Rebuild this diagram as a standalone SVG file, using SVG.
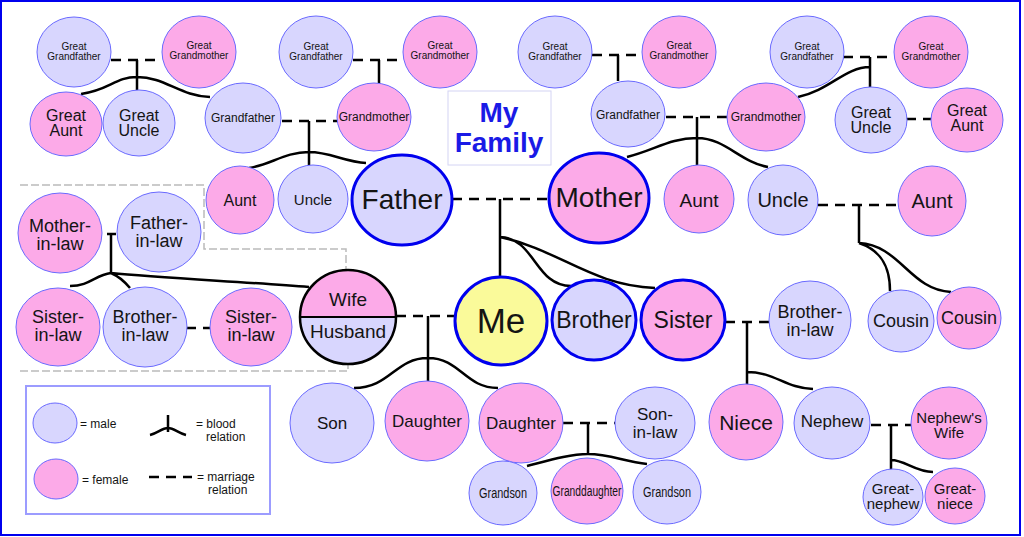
<svg xmlns="http://www.w3.org/2000/svg" width="1024" height="537" viewBox="0 0 1024 537">
<style>
.m{fill:#d8d6fe;stroke:#6a6aff;stroke-width:1}
.f{fill:#fcaae8;stroke:#6a6aff;stroke-width:1}
.k{stroke:#0000ee;stroke-width:3}
.y{fill:#fafa9a}
text{font-family:"Liberation Sans",Arial,Helvetica,sans-serif;fill:#141414;text-anchor:middle}
.l{text-anchor:start}
.blood{fill:none;stroke:#000;stroke-width:2.5}
.marr{fill:none;stroke:#000;stroke-width:2.5;stroke-dasharray:10 7}
.s10{font-size:10px}.s12{font-size:12px}.s15{font-size:15px}.s16{font-size:16px}.s17{font-size:17px}.s18{font-size:18px}.s19{font-size:19px}.s20{font-size:20px}.s21{font-size:21px}.s23{font-size:23px}.s28{font-size:28px}
.cond{font-size:14px}
</style>
<rect x="1" y="1" width="1019" height="534" fill="#fff" stroke="#0000ee" stroke-width="2"/>
<g id="inlaw-frame" fill="none" stroke="#bbb" stroke-width="1.5" stroke-dasharray="8 3">
<path d="M20,185 H204 V249 H346 V271"/>
<path d="M20,371 H348 V364"/>
</g>
<g id="title">
<rect x="448" y="91" width="103" height="74" fill="#fff" stroke="#d4d4f4" stroke-width="1"/>
<text x="499" y="122" style="font-size:28px;font-weight:bold;fill:#1a1ae6">My</text>
<text x="499" y="152" style="font-size:28px;font-weight:bold;fill:#1a1ae6">Family</text>
</g>
<g id="connectors">
<path class="marr" d="M111,60 H162 M353,60 H404 M592,55 H642 M843,57 H894 M282,121 H337 M666,117 H727 M906,119 H931 M452,199 H549 M818,205 H898 M396,316 H455 M186,328 H210 M725,322 H769 M563,423 H615 M871,425 H911"/>
<path class="blood" d="M107,234 H116"/>
<path class="blood" d="M137,60 V90 M81,94 C110,90 115,77 137,77 C165,77 180,96 210,97"/>
<path class="blood" d="M379,60 V83"/>
<path class="blood" d="M618,55 V81"/>
<path class="blood" d="M870,57 V87 M798,97 C830,90 845,67 870,67"/>
<path class="blood" d="M309,121 V165 M249,168 C270,165 285,152 309,152 C330,152 345,162 366,163"/>
<path class="blood" d="M697,117 V165 M627,157 C655,150 670,138 697,138 C725,138 740,162 768,167"/>
<path class="blood" d="M500,199 V277 M500,237 C535,238 535,286 571,286 M500,237 C560,250 590,285 655,288"/>
<path class="blood" d="M428,316 V381 M428,358 C395,358 390,388 354,388 M428,358 C460,358 465,388 498,388"/>
<path class="blood" d="M111,234 V273 M111,273 C95,275 90,286 70,286 M111,273 C118,276 125,282 130,288 M111,273 C160,278 250,282 309,287"/>
<path class="blood" d="M747,322 V385 M747,372 C775,372 785,388 813,389"/>
<path class="blood" d="M859,205 V243 M859,243 C880,250 890,265 890,291 M859,243 C900,245 910,290 951,292"/>
<path class="blood" d="M588,423 V454 M527,466 C550,460 570,454 588,454 C610,454 625,462 647,464"/>
<path class="blood" d="M891,425 V470 M891,460 C905,460 915,472 933,472"/>
</g>
<g id="ggf1"><ellipse class="m" cx="74" cy="52" rx="37" ry="35"/><text class="s10" x="74" y="50">Great</text><text class="s10" x="74" y="60">Grandfather</text></g>
<g id="ggm1"><ellipse class="f" cx="199" cy="52" rx="37" ry="36"/><text class="s10" x="199" y="49">Great</text><text class="s10" x="199" y="59">Grandmother</text></g>
<g id="ggf2"><ellipse class="m" cx="316" cy="52" rx="37" ry="36"/><text class="s10" x="316" y="50">Great</text><text class="s10" x="316" y="60">Grandfather</text></g>
<g id="ggm2"><ellipse class="f" cx="440" cy="52" rx="37" ry="36"/><text class="s10" x="440" y="49">Great</text><text class="s10" x="440" y="59">Grandmother</text></g>
<g id="ggf3"><ellipse class="m" cx="555" cy="52" rx="37" ry="36"/><text class="s10" x="555" y="50">Great</text><text class="s10" x="555" y="60">Grandfather</text></g>
<g id="ggm3"><ellipse class="f" cx="679" cy="52" rx="37" ry="36"/><text class="s10" x="679" y="49">Great</text><text class="s10" x="679" y="59">Grandmother</text></g>
<g id="ggf4"><ellipse class="m" cx="807" cy="52" rx="37" ry="36"/><text class="s10" x="807" y="50">Great</text><text class="s10" x="807" y="60">Grandfather</text></g>
<g id="ggm4"><ellipse class="f" cx="931" cy="52" rx="37" ry="36"/><text class="s10" x="931" y="50">Great</text><text class="s10" x="931" y="60">Grandmother</text></g>
<g id="great-aunt1"><ellipse class="f" cx="66" cy="124" rx="36" ry="32"/><text class="s16" x="66" y="121">Great</text><text class="s16" x="66" y="136">Aunt</text></g>
<g id="great-uncle1"><ellipse class="m" cx="139" cy="123" rx="36" ry="33"/><text class="s16" x="139" y="121">Great</text><text class="s16" x="139" y="136">Uncle</text></g>
<g id="grandfather1"><ellipse class="m" cx="243" cy="118" rx="38" ry="35"/><text class="s12" x="243" y="122">Grandfather</text></g>
<g id="grandmother1"><ellipse class="f" cx="374" cy="117" rx="37" ry="34"/><text class="s12" x="374" y="121">Grandmother</text></g>
<g id="grandfather2"><ellipse class="m" cx="628" cy="114" rx="37" ry="33"/><text class="s12" x="628" y="119">Grandfather</text></g>
<g id="grandmother2"><ellipse class="f" cx="766" cy="117" rx="39" ry="34"/><text class="s12" x="766" y="121">Grandmother</text></g>
<g id="great-uncle2"><ellipse class="m" cx="871" cy="120" rx="36" ry="33"/><text class="s16" x="871" y="118">Great</text><text class="s16" x="871" y="133">Uncle</text></g>
<g id="great-aunt2"><ellipse class="f" cx="967" cy="120" rx="36" ry="32"/><text class="s16" x="967" y="116">Great</text><text class="s16" x="967" y="131">Aunt</text></g>
<g id="aunt1"><ellipse class="f" cx="240" cy="200" rx="34" ry="34"/><text class="s16" x="240" y="206">Aunt</text></g>
<g id="uncle1"><ellipse class="m" cx="313" cy="199" rx="35" ry="34"/><text class="s15" x="313" y="205">Uncle</text></g>
<g id="father"><ellipse class="m k" cx="402" cy="200" rx="50" ry="45"/><text class="s28" x="402" y="209">Father</text></g>
<g id="mother"><ellipse class="f k" cx="599" cy="198" rx="50" ry="45"/><text class="s28" x="599" y="207">Mother</text></g>
<g id="aunt2"><ellipse class="f" cx="699" cy="199" rx="35" ry="34"/><text class="s19" x="699" y="207">Aunt</text></g>
<g id="uncle2"><ellipse class="m" cx="783" cy="200" rx="35" ry="35"/><text class="s20" x="783" y="207">Uncle</text></g>
<g id="aunt3"><ellipse class="f" cx="932" cy="201" rx="34" ry="35"/><text class="s20" x="932" y="208">Aunt</text></g>
<g id="mother-in-law"><ellipse class="f" cx="60" cy="233" rx="42" ry="40"/><text class="s18" x="60" y="232">Mother-</text><text class="s18" x="60" y="250">in-law</text></g>
<g id="father-in-law"><ellipse class="m" cx="159" cy="232" rx="42" ry="40"/><text class="s18" x="159" y="229">Father-</text><text class="s18" x="159" y="247">in-law</text></g>
<g id="sister-in-law1"><ellipse class="f" cx="58" cy="327" rx="42" ry="39"/><text class="s18" x="58" y="323">Sister-</text><text class="s18" x="58" y="341">in-law</text></g>
<g id="brother-in-law1"><ellipse class="m" cx="145" cy="327" rx="42" ry="40"/><text class="s18" x="145" y="323">Brother-</text><text class="s18" x="145" y="341">in-law</text></g>
<g id="sister-in-law2"><ellipse class="f" cx="251" cy="327" rx="41" ry="39"/><text class="s18" x="251" y="323">Sister-</text><text class="s18" x="251" y="341">in-law</text></g>
<g id="spouse">
<path d="M300,317 A48,47 0 0 1 396,317 Z" fill="#fcaae8"/>
<path d="M300,317 A48,47 0 0 0 396,317 Z" fill="#d8d6fe"/>
<ellipse cx="348" cy="317" rx="48" ry="47" fill="none" stroke="#000" stroke-width="2.5"/>
<path d="M300,317 H396" stroke="#000" stroke-width="2"/>
<text class="s19" x="348" y="306">Wife</text><text class="s19" x="348" y="338">Husband</text>
</g>
<g id="me"><ellipse class="y k" cx="501" cy="321" rx="46" ry="44"/><text x="501" y="333" style="font-size:35px">Me</text></g>
<g id="brother"><ellipse class="m k" cx="594" cy="320" rx="42" ry="40"/><text class="s23" x="594" y="328">Brother</text></g>
<g id="sister"><ellipse class="f k" cx="683" cy="320" rx="42" ry="40"/><text class="s23" x="683" y="328">Sister</text></g>
<g id="brother-in-law2"><ellipse class="m" cx="810" cy="320" rx="41" ry="39"/><text class="s18" x="810" y="318">Brother-</text><text class="s18" x="810" y="336">in-law</text></g>
<g id="cousin1"><ellipse class="m" cx="901" cy="321" rx="33" ry="31"/><text class="s18" x="901" y="327">Cousin</text></g>
<g id="cousin2"><ellipse class="f" cx="969" cy="318" rx="32" ry="31"/><text class="s18" x="969" y="324">Cousin</text></g>
<g id="son"><ellipse class="m" cx="332" cy="423" rx="42" ry="40"/><text class="s17" x="332" y="429">Son</text></g>
<g id="daughter1"><ellipse class="f" cx="427" cy="421" rx="42" ry="40"/><text class="s17" x="427" y="427">Daughter</text></g>
<g id="daughter2"><ellipse class="f" cx="521" cy="423" rx="42" ry="40"/><text class="s17" x="521" y="429">Daughter</text></g>
<g id="son-in-law"><ellipse class="m" cx="655" cy="423" rx="40" ry="36"/><text class="s17" x="655" y="420">Son-</text><text class="s17" x="655" y="438">in-law</text></g>
<g id="grandson1"><ellipse class="m" cx="503" cy="493" rx="34" ry="32"/><text class="cond" x="503" y="498" textLength="48" lengthAdjust="spacingAndGlyphs">Grandson</text></g>
<g id="granddaughter"><ellipse class="f" cx="587" cy="491" rx="36" ry="33"/><text class="cond" x="587" y="496" textLength="69" lengthAdjust="spacingAndGlyphs">Granddaughter</text></g>
<g id="grandson2"><ellipse class="m" cx="667" cy="492" rx="34" ry="32"/><text class="cond" x="667" y="497" textLength="48" lengthAdjust="spacingAndGlyphs">Grandson</text></g>
<g id="niece"><ellipse class="f" cx="746" cy="422" rx="37" ry="38"/><text class="s21" x="746" y="430">Niece</text></g>
<g id="nephew"><ellipse class="m" cx="832" cy="423" rx="38" ry="36"/><text class="s17" x="832" y="427">Nephew</text></g>
<g id="nephews-wife"><ellipse class="f" cx="949" cy="423" rx="38" ry="36"/><text class="s15" x="949" y="423">Nephew's</text><text class="s15" x="949" y="438">Wife</text></g>
<g id="great-nephew"><ellipse class="m" cx="893" cy="497" rx="30" ry="28"/><text class="s15" x="893" y="494">Great-</text><text class="s15" x="893" y="509">nephew</text></g>
<g id="great-niece"><ellipse class="f" cx="955" cy="496" rx="30" ry="28"/><text class="s15" x="955" y="494">Great-</text><text class="s15" x="955" y="509">niece</text></g>
<g id="legend">
<rect x="26" y="386" width="244" height="128" fill="none" stroke="#9c9cff" stroke-width="2"/>
<ellipse class="m" cx="55" cy="423" rx="22" ry="20"/>
<text class="s12 l" x="80" y="428">= male</text>
<ellipse class="f" cx="56" cy="479" rx="22" ry="20"/>
<text class="s12 l" x="82" y="484">= female</text>
<path class="blood" d="M168,415 V432 M150,435 C158,433 162,428 168,428 C174,428 178,433 186,435" stroke-width="2"/>
<text class="s12 l" x="196" y="428">= blood</text>
<text class="s12 l" x="206" y="441">relation</text>
<path class="marr" d="M149,477 H192" stroke-dasharray="10 6" stroke-width="2"/>
<text class="s12 l" x="197" y="481">= marriage</text>
<text class="s12 l" x="208" y="494">relation</text>
</g>
</svg>
